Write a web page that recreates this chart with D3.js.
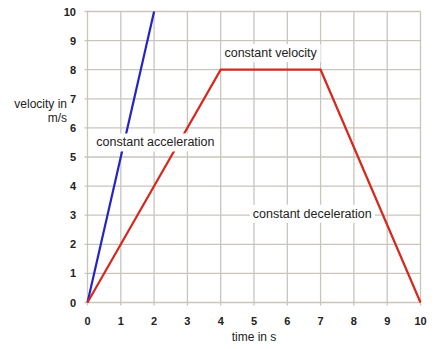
<!DOCTYPE html>
<html><head><meta charset="utf-8">
<script src="https://cdn.jsdelivr.net/npm/d3@7"></script>
<style>body{margin:0;background:#fff}svg{display:block}</style>
</head><body>
<script>
const xTicks = [0,1,2,3,4,5,6,7,8,9,10];
const yTicks = [0,1,2,3,4,5,6,7,8,9,10];
const blueT = [0, 2];
const blueV = [0, 10];
const redT = [0, 4, 7, 10];
const redV = [0, 8, 8, 0];
const notes = ["constant acceleration", "constant velocity", "constant deceleration"];
const noteT = [2.04, 5.5, 6.75];
const noteV = [5.5, 8.57, 3.05];

const W = 445, H = 349;
const svg = d3.select("body").append("svg").attr("width", W).attr("height", H);
const x = d3.scaleLinear().domain([0,10]).range([87.5, 420.5]);
const y = d3.scaleLinear().domain([0,10]).range([302.5, 11.5]);
const font = "'Liberation Sans', Arial, sans-serif";

// grid
const g = svg.append("g");
g.selectAll(".vx").data(xTicks).join("line")
  .attr("x1", d=>x(d)).attr("x2", d=>x(d)).attr("y1", y(10)).attr("y2", y(0)+3)
  .attr("stroke", "#c9c5bd").attr("stroke-width", 1.3);
g.selectAll(".hy").data(yTicks).join("line")
  .attr("y1", d=>y(d)).attr("y2", d=>y(d)).attr("x1", x(0)-3).attr("x2", x(10))
  .attr("stroke", "#c9c5bd").attr("stroke-width", 1.3);

// tick labels
svg.selectAll(".yl").data(yTicks).join("text")
  .attr("x", 76).attr("y", d=>y(d)+4).attr("text-anchor","end")
  .attr("font-family", font).attr("font-weight","bold").attr("font-size", 11).attr("fill","#222")
  .text(d=>d);
svg.selectAll(".xl").data(xTicks).join("text")
  .attr("x", d=>x(d)).attr("y", 325).attr("text-anchor","middle")
  .attr("font-family", font).attr("font-weight","bold").attr("font-size", 11).attr("fill","#222")
  .text(d=>d);

// lines
const line = d3.line().x(d=>x(d[0])).y(d=>y(d[1]));
svg.append("path").datum(blueT.map((t,i)=>[t,blueV[i]])).attr("d", line)
  .attr("fill","none").attr("stroke","#2424c4").attr("stroke-width",2.2);
svg.append("path").datum(redT.map((t,i)=>[t,redV[i]])).attr("d", line)
  .attr("fill","none").attr("stroke","#d6281c").attr("stroke-width",2.2);

// annotations with white backgrounds
notes.forEach((n,i)=>{
  const t = svg.append("text").attr("x", x(noteT[i])).attr("y", y(noteV[i])+4)
    .attr("text-anchor","middle").attr("font-family", font).attr("font-size", 12.5).attr("fill","#222").text(n);
  const bb = t.node().getBBox();
  svg.insert("rect", () => t.node()).attr("x", bb.x-3).attr("y", bb.y-2).attr("width", bb.width+6).attr("height", bb.height+4).attr("fill","#fff");
});

// axis titles
svg.append("text").attr("x", 67).attr("y", 108).attr("text-anchor","end")
  .attr("font-family", font).attr("font-size", 12).attr("fill","#222").text("velocity in");
svg.append("text").attr("x", 67).attr("y", 122).attr("text-anchor","end")
  .attr("font-family", font).attr("font-size", 12).attr("fill","#222").text("m/s");
svg.append("text").attr("x", x(5)).attr("y", 341).attr("text-anchor","middle")
  .attr("font-family", font).attr("font-size", 12).attr("fill","#222").text("time in s");
</script>
</body></html>
